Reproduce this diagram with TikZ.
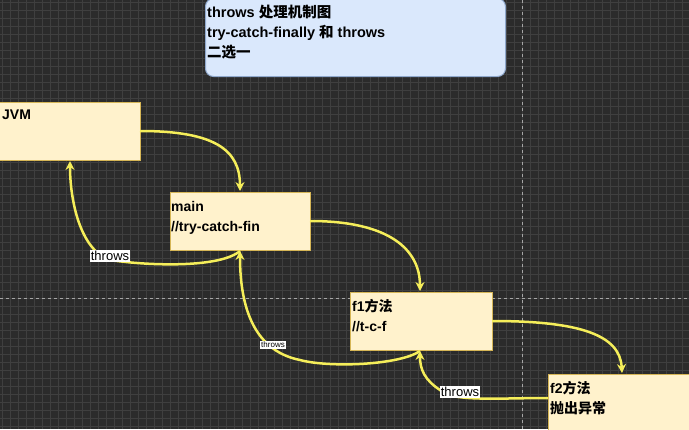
\documentclass[tikz,border=0pt]{standalone}
\usepackage{fontspec}
\setmainfont{Liberation Sans}
\newfontfamily\cjk{Noto Sans CJK SC}
\usetikzlibrary{arrows.meta}
\definecolor{bg}{HTML}{2B2B2B}
\definecolor{gridc}{HTML}{3F3F3F}
\definecolor{boxf}{HTML}{FFF2CC}
\definecolor{boxd}{HTML}{D6B656}
\definecolor{titf}{HTML}{DAE8FC}
\definecolor{titd}{HTML}{8FA8CC}
\definecolor{arr}{HTML}{F5EE5A}
\tikzset{
  box/.style={draw=boxd,fill=boxf,line width=1pt,anchor=north west,inner sep=0pt,font=\bfseries\fontsize{14}{19}\selectfont},
  conn/.style={draw=arr,line width=2.5pt,-{Stealth[length=9pt,width=9pt]}},
  lbl/.style={fill=white,inner sep=1pt,font=\fontsize{13}{14}\selectfont},
}
\begin{document}
\begin{tikzpicture}[x=1pt,y=-1pt]
\useasboundingbox (0,0) rectangle (689,429);
\fill[bg] (0,0) rectangle (689,429);
\begin{scope}
\clip (0,0) rectangle (689,429);
\foreach \i in {0,...,86} \draw[gridc,line width=0.6pt] (\i*8+2,0) -- (\i*8+2,429);
\foreach \j in {0,...,54} \draw[gridc,line width=0.6pt] (0,\j*8+2) -- (689,\j*8+2);
\draw[gray!70,dashed,line width=0.7pt] (522,0) -- (522,429);
\draw[gray!70,dashed,line width=0.7pt] (0,298) -- (689,298);
\end{scope}
\node[draw=titd,fill=titf,rounded corners=8pt,line width=1pt,anchor=north west,minimum width=300pt,minimum height=78pt,inner sep=0pt] (title) at (205,-2) {};
\node[anchor=north west,align=left,font=\bfseries\fontsize{14.5}{20}\selectfont,inner sep=0pt] (tt) at (207,5) {throws {\cjk 处理机制图}\\try-catch-finally {\cjk 和} throws\\{\cjk 二选一}};
\node[box,minimum width=142pt,minimum height=58pt] (jvm) at (-2,102) {};
\node[anchor=north west,font=\bfseries\fontsize{14}{19}\selectfont,inner sep=0pt] at (2,110) {JVM};
\node[box,minimum width=140pt,minimum height=58pt] (main) at (170,192) {};
\node[anchor=north west,align=left,font=\bfseries\fontsize{14}{20}\selectfont,inner sep=0pt] at (171,201) {main\\//try-catch-fin};
\node[box,minimum width=142pt,minimum height=58pt] (f1) at (350,292) {};
\node[anchor=north west,align=left,font=\bfseries\fontsize{14}{20}\selectfont,inner sep=0pt] at (352,299) {f1{\cjk 方法}\\//t-c-f};
\node[box,minimum width=150pt,minimum height=60pt] (f2) at (548,374) {};
\node[anchor=north west,align=left,font=\bfseries\fontsize{14}{20}\selectfont,inner sep=0pt] at (550,381) {f2{\cjk 方法}\\{\cjk 抛出异常}};
\coordinate (mainb) at (240,251);
\coordinate (f1b) at (420,351);
\draw[conn] (140,131) .. controls (215,131) and (240,150) .. (240,191);
\draw[conn] (310,221) .. controls (390,221) and (420,250) .. (420,291);
\draw[conn] (492,321) .. controls (580,321) and (620,335) .. (622,373);
\draw[conn] (mainb) .. controls (220,268) and (150,266) .. (110,260) .. controls (80,250) and (70,200) .. (70,161);
\draw[conn] (f1b) .. controls (400,365) and (330,368) .. (300,360) .. controls (250,350) and (240,300) .. (mainb);
\draw[conn] (548,398) .. controls (500,398) and (450,402) .. (440,390) .. controls (425,380) and (420,370) .. (f1b);
\node[lbl] (l1) at (110,256) {throws};
\node[lbl,font=\fontsize{8}{9}\selectfont] (l2) at (273,345) {throws};
\node[lbl] (l3) at (460,392) {throws};
\end{tikzpicture}
\end{document}
